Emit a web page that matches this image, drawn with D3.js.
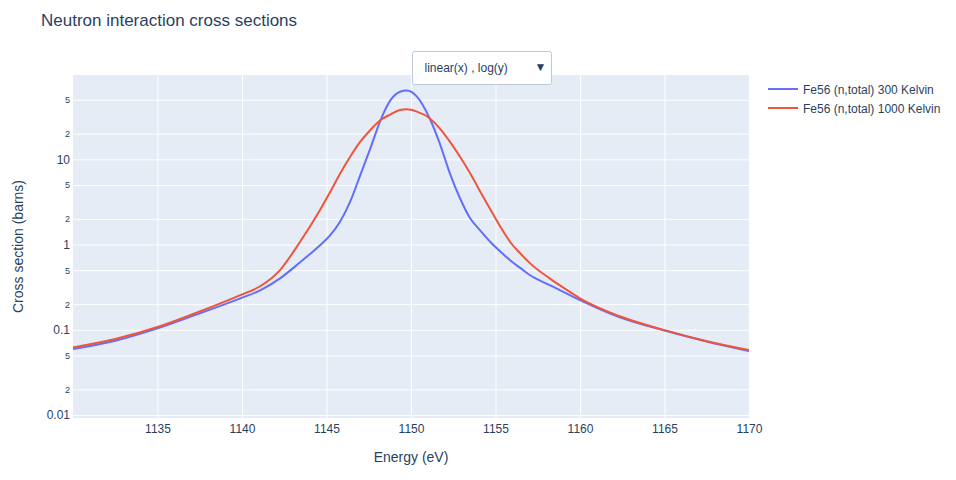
<!DOCTYPE html>
<html>
<head>
<meta charset="utf-8">
<script src="https://cdn.jsdelivr.net/npm/d3@7"></script>
<style>
  body { margin: 0; background: #fff; }
  svg text { font-family: "Liberation Sans", Arial, sans-serif; fill: #2a3f5f; }
</style>
</head>
<body>
<svg id="chart" width="956" height="480"></svg>
<script>
// energies in eV
const energy = [1130, 1132.5, 1135, 1137.5, 1139.9, 1141.1, 1142.25, 1143.4, 1144.6, 1145.2,
  1145.8, 1146.4, 1147, 1147.6, 1148.2, 1148.8, 1149.35, 1149.75, 1150.35, 1151.1,
  1151.7, 1152.3, 1152.9, 1153.5, 1154.1, 1154.7, 1155.3, 1155.9, 1156.5, 1157.05,
  1158.2, 1159.4, 1160, 1162.4, 1165, 1167.5, 1170]
// cross sections (barns)
const xs300 = [0.0593, 0.0743, 0.1038, 0.156, 0.234, 0.292, 0.401, 0.610, 0.977, 1.27,
  1.85, 3.18, 6.54, 13.5, 28.9, 49.7, 62, 64, 54.3, 30.3,
  15.4, 6.85, 3.49, 2.03, 1.46, 1.07, 0.822, 0.646, 0.525, 0.436,
  0.335, 0.255, 0.223, 0.139, 0.098, 0.0728, 0.0562]
const xs1000 = [0.0621, 0.0778, 0.1076, 0.164, 0.255, 0.326, 0.502, 1.05, 2.51, 4.07,
  6.76, 10.7, 16.1, 22.1, 28.9, 33.7, 37.9, 38.6, 36.2, 30.3,
  23.1, 16.1, 10.7, 6.85, 4.17, 2.57, 1.60, 1.05, 0.774, 0.601,
  0.401, 0.279, 0.234, 0.143, 0.099, 0.0735, 0.0578]
const seriesNames = ["Fe56 (n,total) 300 Kelvin", "Fe56 (n,total) 1000 Kelvin"]
const seriesColors = ["#636efa", "#EF553B"]
const xTicks = [1135, 1140, 1145, 1150, 1155, 1160, 1165, 1170]
const yTicks = [0.01, 0.02, 0.05, 0.1, 0.2, 0.5, 1, 2, 5, 10, 20, 50]

var margin = { top: 75, right: 207, bottom: 62, left: 73 }
var width = 956, height = 480

var x = d3.scaleLinear()
  .domain([1130, 1170])
  .range([margin.left, width - margin.right])
var y = d3.scaleLog()
  .domain([Math.pow(10, -2.035), Math.pow(10, 1.989)])
  .range([height - margin.bottom, margin.top])

var svg = d3.select("#chart")

svg.append("rect")
  .attr("x", margin.left).attr("y", margin.top)
  .attr("width", width - margin.left - margin.right)
  .attr("height", height - margin.top - margin.bottom)
  .attr("fill", "#E5ECF6")

svg.append("clipPath").attr("id", "clip").append("rect")
  .attr("x", margin.left).attr("y", margin.top)
  .attr("width", width - margin.left - margin.right)
  .attr("height", height - margin.top - margin.bottom)

// grid + axes
var xAxis = g => g
  .attr("transform", `translate(0,${height - margin.bottom})`)
  .call(d3.axisBottom(x).tickValues(xTicks).tickSize(-(height - margin.top - margin.bottom)).tickPadding(6).tickFormat(d3.format("d")))
  .call(g => g.select(".domain").remove())
  .call(g => g.selectAll("line").attr("stroke", "#fff").attr("stroke-width", 1))
  .call(g => g.selectAll("text").attr("font-size", 12).attr("fill", "#2a3f5f"))

var isMajor = d => Math.abs(Math.log10(d) - Math.round(Math.log10(d))) < 1e-6
var leadDigit = d => String(Math.round(d / Math.pow(10, Math.floor(Math.log10(d) + 1e-9))))

var yAxis = g => g
  .attr("transform", `translate(${margin.left},0)`)
  .call(d3.axisLeft(y).tickValues(yTicks).tickSize(-(width - margin.left - margin.right)).tickPadding(3)
    .tickFormat(d => isMajor(d) ? d3.format("~g")(d) : leadDigit(d)))
  .call(g => g.select(".domain").remove())
  .call(g => g.selectAll("line").attr("stroke", "#fff").attr("stroke-width", 1))
  .call(g => g.selectAll("text").attr("fill", "#2a3f5f").attr("font-size", d => isMajor(d) ? 12 : 9))

svg.append("g").attr("class", "xaxis").call(xAxis)
svg.append("g").attr("class", "yaxis").call(yAxis)

var line = d3.line()
  .x((d, i) => x(energy[i]))
  .y(d => y(d))
  .curve(d3.curveMonotoneX)

svg.append("g").attr("clip-path", "url(#clip)")
  .selectAll("path")
  .data([xs300, xs1000])
  .join("path")
  .attr("d", line)
  .attr("fill", "none")
  .attr("stroke", (d, i) => seriesColors[i])
  .attr("stroke-width", 2)

// titles
svg.append("text").attr("x", 41).attr("y", 26).attr("font-size", 17)
  .text("Neutron interaction cross sections")
svg.append("text").attr("x", (x.range()[0] + x.range()[1]) / 2).attr("y", 462)
  .attr("text-anchor", "middle").attr("font-size", 14).text("Energy (eV)")
svg.append("text")
  .attr("transform", `translate(23,${(y.range()[0] + y.range()[1]) / 2}) rotate(-90)`)
  .attr("text-anchor", "middle").attr("font-size", 14).text("Cross section (barns)")

// legend
var legend = svg.append("g").selectAll("g")
  .data(seriesNames)
  .join("g")
  .attr("transform", (d, i) => `translate(768,${89 + i * 19})`)
legend.append("line").attr("x1", 0).attr("x2", 30)
  .attr("stroke", (d, i) => seriesColors[i]).attr("stroke-width", 2)
legend.append("text").attr("x", 35).attr("y", 4.5).attr("font-size", 12).text(d => d)

// dropdown
var menu = svg.append("g").attr("transform", "translate(412.5,51.5)")
menu.append("rect").attr("width", 139).attr("height", 33).attr("rx", 2)
  .attr("fill", "#fff").attr("stroke", "#BEC8D9").attr("stroke-width", 1)
menu.append("text").attr("x", 12).attr("y", 20.5).attr("font-size", 12).text("linear(x) , log(y)")
menu.append("text").attr("x", 122).attr("y", 19.5).attr("font-size", 12).text("▼")
</script>
</body>
</html>
